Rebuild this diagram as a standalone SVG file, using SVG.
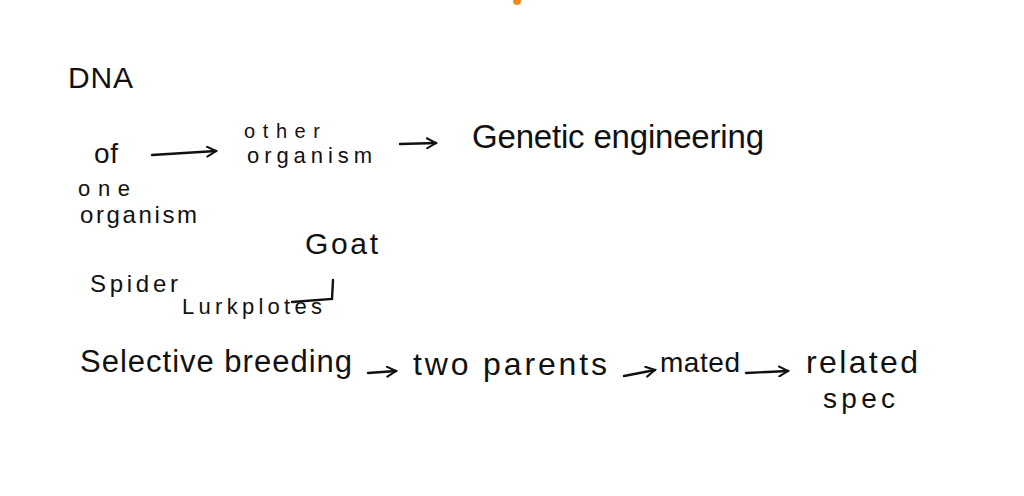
<svg xmlns="http://www.w3.org/2000/svg" width="1024" height="496" viewBox="0 0 1024 496">
<defs>
<style>
text{font-family:"Liberation Sans","DejaVu Sans",sans-serif;fill:#111;}
.c line,.c path{stroke:#111;stroke-width:2.4;fill:none;stroke-linecap:round;}
</style>
<marker id="ah" viewBox="0 0 12 12" refX="10" refY="6" markerWidth="12" markerHeight="12" markerUnits="userSpaceOnUse" orient="auto">
<path d="M1,1 L10,6 L1,11" stroke="#111" stroke-width="2" fill="none" stroke-linecap="round"/>
</marker>
</defs>
<rect width="1024" height="496" fill="#fff"/>
<circle cx="517" cy="1" r="4" fill="#f08c1e"/>
<g id="dna"><text x="68" y="88" font-size="30" textLength="65">DNA</text></g>
<g id="of"><text x="94" y="163" font-size="28" textLength="24">of</text></g>
<g id="one-organism"><text x="78" y="196" font-size="22" textLength="52">one</text><text x="80" y="223" font-size="24" textLength="117">organism</text></g>
<g id="other-organism"><text x="244" y="138" font-size="20" textLength="76">other</text><text x="247" y="163" font-size="22" textLength="125">organism</text></g>
<g id="genetic-engineering"><text x="472" y="148" font-size="33" textLength="292">Genetic engineering</text></g>
<g id="goat"><text x="305" y="254" font-size="30" textLength="73">Goat</text></g>
<g id="spider"><text x="90" y="292" font-size="24" textLength="88">Spider</text></g>
<g id="lurkplotes"><text x="182" y="314" font-size="22" textLength="140">Lurkplotes</text><path d="M292,302 L332,299 L333,280" stroke="#111" stroke-width="2.4" fill="none" stroke-linecap="round"/></g>
<g id="selective-breeding"><text x="80" y="372" font-size="31" textLength="272">Selective breeding</text></g>
<g id="two-parents"><text x="413" y="375" font-size="32" textLength="194">two parents</text></g>
<g id="mated"><text x="660" y="372" font-size="28" textLength="80">mated</text></g>
<g id="related-spec"><text x="806" y="373" font-size="32" textLength="112">related</text><text x="823" y="408" font-size="28" textLength="72">spec</text></g>
<g id="connectors" class="c">
<line x1="152" y1="155" x2="216" y2="151" marker-end="url(#ah)"/>
<line x1="400" y1="144" x2="436" y2="143" marker-end="url(#ah)"/>
<line x1="368" y1="373" x2="396" y2="371" marker-end="url(#ah)"/>
<line x1="624" y1="376" x2="655" y2="370" marker-end="url(#ah)"/>
<line x1="746" y1="373" x2="788" y2="371" marker-end="url(#ah)"/>
</g>
</svg>
